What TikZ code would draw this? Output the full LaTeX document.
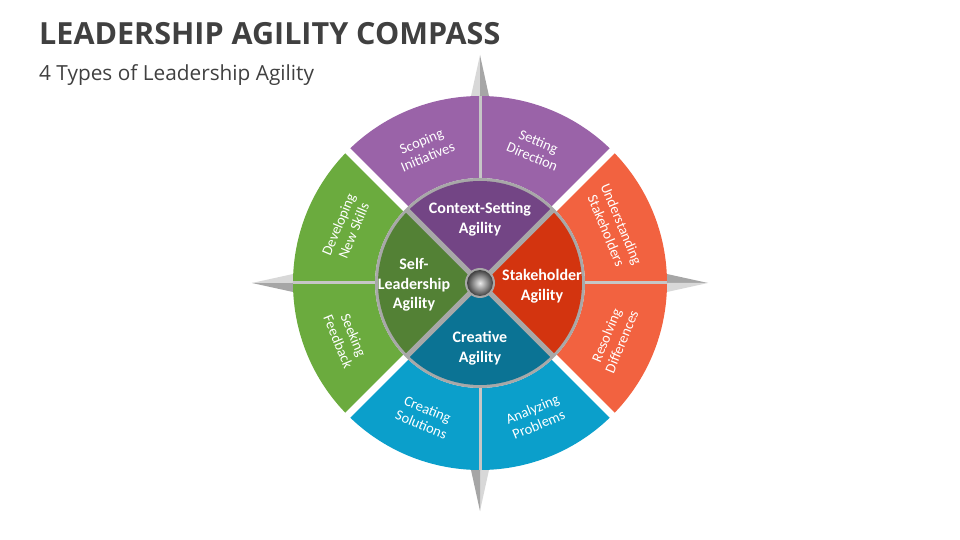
\documentclass[tikz,border=0pt]{standalone}
\usepackage{fontspec}
\setmainfont{Carlito}
\newfontfamily\titlefont{Open Sans}
\usetikzlibrary{calc}
\definecolor{titlegray}{HTML}{404040}
\definecolor{purpleout}{HTML}{9A63A8}
\definecolor{purplein}{HTML}{734585}
\definecolor{orangeout}{HTML}{F26240}
\definecolor{redin}{HTML}{D3340F}
\definecolor{blueout}{HTML}{0B9FCB}
\definecolor{bluein}{HTML}{0B7394}
\definecolor{greenout}{HTML}{6BAB3E}
\definecolor{greenin}{HTML}{538135}
\definecolor{needledark}{HTML}{A6A6A6}
\definecolor{needlelight}{HTML}{D8D8D8}
\definecolor{axisgray}{HTML}{C6C6C6}
\definecolor{rimgray}{HTML}{A8A8A8}
\tikzset{
  titletext/.style={anchor=base west, inner sep=0pt, text=titlegray},
  outerlabel/.style={text=white, align=center, inner sep=0pt, font=\fontsize{14.5}{16.5}\selectfont},
  innerlabel/.style={text=white, align=center, inner sep=0pt, font=\bfseries\fontsize{16}{19.5}\selectfont},
  axisline/.style={draw=axisgray, line width=3pt},
  gapline/.style={draw=white, line width=7pt},
  sepline/.style={draw=rimgray, line width=5pt}
}

\begin{document}
\begin{tikzpicture}[x=1pt,y=1pt]
  \useasboundingbox (-480,-257) rectangle (480,283);

  \node[titletext, font=\titlefont\bfseries\fontsize{30.5}{36}\selectfont] (title) at (-441,238) {LEADERSHIP AGILITY COMPASS};
  \node[titletext, font=\titlefont\fontsize{20.8}{24}\selectfont] (subtitle) at (-441,202) {4 Types of Leadership Agility};

  % compass needles
  \foreach \a/\ccw/\cw in {90/needlelight/needledark, 180/needledark/needlelight, 270/needlelight/needledark, 0/needledark/needlelight} {
    \fill[\ccw] (0,0) -- ($(\a:187)+(\a+90:9)$) -- (\a:228) -- cycle;
    \fill[\cw] (0,0) -- ($(\a:187)+(\a-90:9)$) -- (\a:228) -- cycle;
  }

  % outer ring
  \foreach \a/\c in {0/orangeout, 45/purpleout, 90/purpleout, 135/greenout, 180/greenout, 225/blueout, 270/blueout, 315/orangeout} {
    \fill[\c] (\a:105) arc[start angle=\a, end angle=\a+45, radius=105] -- (\a+45:187) arc[start angle=\a+45, end angle=\a, radius=187] -- cycle;
  }
  \foreach \a in {0,90,180,270} {
    \draw[axisline] (\a:104) -- (\a:187);
  }
  \foreach \a in {45,135,225,315} {
    \draw[gapline] (\a:100) -- (\a:192);
  }

  % inner disc
  \fill[rimgray] (0,0) circle[radius=105];
  \foreach \a/\c in {45/purplein, 135/greenin, 225/bluein, 315/redin} {
    \fill[\c] (0,0) -- (\a:102) arc[start angle=\a, end angle=\a+90, radius=102] -- cycle;
  }
  \draw[sepline] (45:103) -- (225:103);
  \draw[sepline] (135:103) -- (315:103);

  % centre button
  \fill[rimgray] (0,0) circle[radius=15];
  \shade[inner color=white!92!black, outer color=black!75] (0,0) circle[radius=13];

  % inner labels
  \node[innerlabel] (context) at (0,64) {Context-Setting\\Agility};
  \node[innerlabel] (stake) at (62,-3) {Stakeholder\\Agility};
  \node[innerlabel] (creative) at (0,-65) {Creative\\Agility};
  \node[innerlabel] (self) at (-66,-2) {Self-\\Leadership\\Agility};

  % outer labels
  \node[outerlabel, rotate=22.5] (scoping) at (112.5:145) {Scoping\\Initiatives};
  \node[outerlabel, rotate=-22.5] (setting) at (67.5:145) {Setting\\Direction};
  \node[outerlabel, rotate=-67.5] (understanding) at (22.5:145) {Understanding\\Stakeholders};
  \node[outerlabel, rotate=67.5] (resolving) at (-22.5:145) {Resolving\\Differences};
  \node[outerlabel, rotate=22.5] (analyzing) at (-67.5:145) {Analyzing\\Problems};
  \node[outerlabel, rotate=-22.5] (creating) at (-112.5:145) {Creating\\Solutions};
  \node[outerlabel, rotate=-67.5] (seeking) at (-157.5:145) {Seeking\\Feedback};
  \node[outerlabel, rotate=67.5] (developing) at (157.5:145) {Developing\\New Skills};
\end{tikzpicture}
\end{document}
